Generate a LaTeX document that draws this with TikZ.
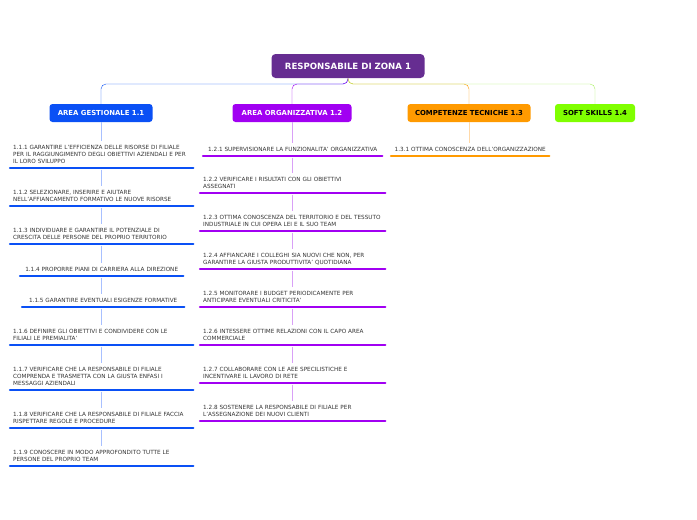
\documentclass[tikz,border=0pt]{standalone}
\usepackage{fontspec}
\setmainfont{DejaVu Sans}
\newcommand\mynohyph{\hyphenpenalty=10000\relax\exhyphenpenalty=10000\relax}
\definecolor{txt}{HTML}{333333}
\definecolor{rootc}{HTML}{662D91}
\definecolor{bluec}{HTML}{0A50F5}
\definecolor{bluel}{HTML}{A8C0FF}
\definecolor{purc}{HTML}{A100F2}
\definecolor{purl}{HTML}{D9A0F7}
\definecolor{orc}{HTML}{FF9A00}
\definecolor{orl}{HTML}{FFD9A8}
\definecolor{grc}{HTML}{80FF00}
\definecolor{grl}{HTML}{A8F060}
\tikzset{
  hdr/.style={rounded corners=3pt, minimum height=18pt, inner xsep=4pt, font=\bfseries\fontsize{6.9}{8}\selectfont},
  item/.style={anchor=south west, inner xsep=3pt, inner ysep=4pt, align=left, text=txt, font=\fontsize{5.7}{7}\selectfont\mynohyph},
  ulb/.style={bluec, line width=2.2pt, line cap=round},
  ulp/.style={purc, line width=2.2pt, line cap=round},
  ulo/.style={orc, line width=2.2pt, line cap=round},
}
\begin{document}
\begin{tikzpicture}[x=1pt,y=-1pt]
\useasboundingbox (0,0) rectangle (697,520);
\node[rounded corners=4pt, fill=rootc, text=white, minimum width=153pt, minimum height=24pt, font=\bfseries\fontsize{8.6}{10}\selectfont] (root) at (348,66) {RESPONSABILE DI ZONA 1};
\node[hdr, fill=bluec, text=white, minimum width=103pt] (g) at (101,113) {AREA GESTIONALE 1.1};
\node[hdr, fill=purc, text=white, minimum width=119pt] (o) at (292,113) {AREA ORGANIZZATIVA 1.2};
\node[hdr, fill=orc, text=black, minimum width=123pt] (c) at (469,113) {COMPETENZE TECNICHE 1.3};
\node[hdr, fill=grc, text=black, minimum width=80pt] (s) at (595,113) {SOFT SKILLS 1.4};
\coordinate (j) at (348,84);
\draw[bluec, rounded corners=5pt] (root.south) -- (j) -| (g.north);
\draw[purc, rounded corners=5pt] (root.south) -- (j) -| (o.north);
\draw[orc, rounded corners=5pt] (root.south) -- (j) -| (c.north);
\draw[grl, rounded corners=5pt] (root.south) -- (j) -| (s.north);

% left column
\node[item, text width=177pt] (a1) at (10,168) {1.1.1 GARANTIRE L'EFFICIENZA DELLE RISORSE DI FILIALE\\PER IL RAGGIUNGIMENTO DEGLI OBIETTIVI AZIENDALI E PER\\IL LORO SVILUPPO};
\node[item, text width=177pt] (a2) at (10,206) {1.1.2 SELEZIONARE, INSERIRE E AIUTARE\\NELL'AFFIANCAMENTO FORMATIVO LE NUOVE RISORSE};
\node[item, text width=177pt] (a3) at (10,244) {1.1.3 INDIVIDUARE E GARANTIRE IL POTENZIALE DI\\CRESCITA DELLE PERSONE DEL PROPRIO TERRITORIO};
\node[item, text width=157pt, align=center] (a4) at (20,276) {1.1.4 PROPORRE PIANI DI CARRIERA ALLA DIREZIONE};
\node[item, text width=156pt, align=center] (a5) at (22,307) {1.1.5 GARANTIRE EVENTUALI ESIGENZE FORMATIVE};
\node[item, text width=177pt] (a6) at (10,345) {1.1.6 DEFINIRE GLI OBIETTIVI E CONDIVIDERE CON LE\\FILIALI LE PREMIALITA'};
\node[item, text width=177pt] (a7) at (10,390) {1.1.7 VERIFICARE CHE LA RESPONSABILE DI FILIALE\\COMPRENDA E TRASMETTA CON LA GIUSTA ENFASI I\\MESSAGGI AZIENDALI};
\node[item, text width=177pt] (a8) at (10,428) {1.1.8 VERIFICARE CHE LA RESPONSABILE DI FILIALE FACCIA\\RISPETTARE REGOLE E PROCEDURE};
\node[item, text width=177pt] (a9) at (10,466) {1.1.9 CONOSCERE IN MODO APPROFONDITO TUTTE LE\\PERSONE DEL PROPRIO TEAM};
\foreach \n in {a1,a2,a3,a4,a5,a6,a7,a8,a9} \draw[ulb] (\n.south west) -- (\n.south east);
\draw[bluel] (g.south) -- (g.south |- a1.north);
\foreach \p/\q in {a1/a2,a2/a3,a3/a4,a4/a5,a5/a6,a6/a7,a7/a8,a8/a9}
  \draw[bluel] (\p.south -| g.south) ++(0,1.5) -- (\q.north -| g.south);

% middle column
\node[item, text width=173pt, align=center] (b1) at (203,156) {1.2.1 SUPERVISIONARE LA FUNZIONALITA' ORGANIZZATIVA};
\node[item, text width=179pt] (b2) at (200,193) {1.2.2 VERIFICARE I RISULTATI CON GLI OBIETTIVI\\ASSEGNATI};
\node[item, text width=179pt] (b3) at (200,231) {1.2.3 OTTIMA CONOSCENZA DEL TERRITORIO E DEL TESSUTO\\INDUSTRIALE IN CUI OPERA LEI E IL SUO TEAM};
\node[item, text width=179pt] (b4) at (200,269) {1.2.4 AFFIANCARE I COLLEGHI SIA NUOVI CHE NON, PER\\GARANTIRE LA GIUSTA PRODUTTIVITA' QUOTIDIANA};
\node[item, text width=179pt] (b5) at (200,307) {1.2.5 MONITORARE I BUDGET PERIODICAMENTE PER\\ANTICIPARE EVENTUALI CRITICITA'};
\node[item, text width=179pt] (b6) at (200,345) {1.2.6 INTESSERE OTTIME RELAZIONI CON IL CAPO AREA\\COMMERCIALE};
\node[item, text width=179pt] (b7) at (200,383) {1.2.7 COLLABORARE CON LE AEE SPECILISTICHE E\\INCENTIVARE IL LAVORO DI RETE};
\node[item, text width=179pt] (b8) at (200,421) {1.2.8 SOSTENERE LA RESPONSABILE DI FILIALE PER\\L'ASSEGNAZIONE DEI NUOVI CLIENTI};
\foreach \n in {b1,b2,b3,b4,b5,b6,b7,b8} \draw[ulp] (\n.south west) -- (\n.south east);
\draw[purl] (o.south) -- (o.south |- b1.north);
\foreach \p/\q in {b1/b2,b2/b3,b3/b4,b4/b5,b5/b6,b6/b7,b7/b8}
  \draw[purl] (\p.south -| o.south) ++(0,1.5) -- (\q.north -| o.south);

% right column
\node[item, text width=152pt, align=center] (c1) at (391,156) {\mbox{1.3.1 OTTIMA CONOSCENZA DELL'ORGANIZZAZIONE}};
\draw[ulo] (c1.south west) -- (c1.south east);
\draw[orl] (c.south) -- (c.south |- c1.north);
\end{tikzpicture}
\end{document}
